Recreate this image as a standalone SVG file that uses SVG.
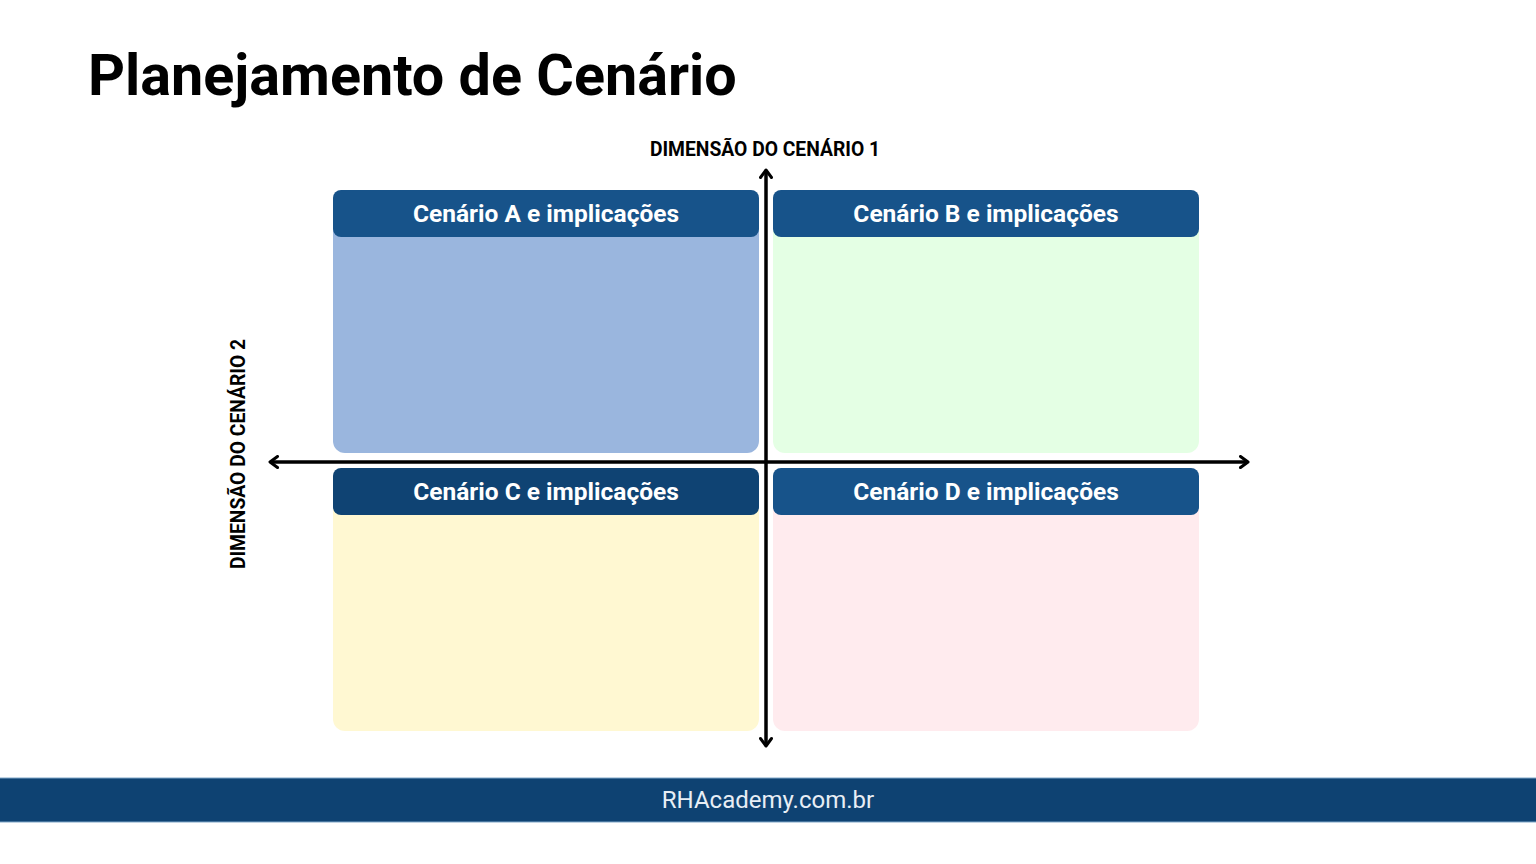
<svg xmlns="http://www.w3.org/2000/svg" width="1536" height="864" viewBox="0 0 1536 864">
<style>
.title{font-family:Roboto,"Liberation Sans",sans-serif;font-weight:700;font-size:57.5px;fill:#000}
.axis{font-family:Roboto,"Liberation Sans",sans-serif;font-weight:700;font-size:19.3px;fill:#000}
.hdr{font-family:Roboto,"Liberation Sans",sans-serif;font-weight:700;font-size:24.5px;fill:#fff;text-anchor:middle}
.foot{font-family:Roboto,"Liberation Sans",sans-serif;font-size:24px;fill:#e8eef5;text-anchor:middle}
.ax{stroke:#000;stroke-width:3.5;fill:none}
</style>
<defs>
<marker id="arr" viewBox="0 0 14 14" refX="10.5" refY="7" markerWidth="14" markerHeight="14" markerUnits="userSpaceOnUse" orient="auto-start-reverse">
<path d="M3,1.5 L10.5,7 L3,12.5" fill="none" stroke="#000" stroke-width="3" stroke-linecap="round" stroke-linejoin="round"/>
</marker>
</defs>
<rect width="1536" height="864" fill="#fff"/>
<text class="title" x="88" y="95">Planejamento de Cenário</text>

<g id="quadA">
<rect x="333" y="190" width="426" height="263" rx="12" fill="#9ab6de"/>
<rect x="333" y="190" width="426" height="47" rx="8" fill="#17538a"/>
<text class="hdr" x="546" y="222">Cenário A e implicações</text>
</g>
<g id="quadB">
<rect x="773" y="190" width="426" height="263" rx="12" fill="#e4ffe4"/>
<rect x="773" y="190" width="426" height="47" rx="8" fill="#17538a"/>
<text class="hdr" x="986" y="222">Cenário B e implicações</text>
</g>
<g id="quadC">
<rect x="333" y="468" width="426" height="263" rx="12" fill="#fff8d2"/>
<rect x="333" y="468" width="426" height="47" rx="8" fill="#0f4373"/>
<text class="hdr" x="546" y="500">Cenário C e implicações</text>
</g>
<g id="quadD">
<rect x="773" y="468" width="426" height="263" rx="12" fill="#ffebee"/>
<rect x="773" y="468" width="426" height="47" rx="8" fill="#17538a"/>
<text class="hdr" x="986" y="500">Cenário D e implicações</text>
</g>

<g id="connectors">
<line class="ax" x1="766" y1="170" x2="766" y2="746" marker-start="url(#arr)" marker-end="url(#arr)"/>
<line class="ax" x1="270" y1="462" x2="1248" y2="462" marker-start="url(#arr)" marker-end="url(#arr)"/>
</g>

<text class="axis" x="765" y="156" text-anchor="middle">DIMENSÃO DO CENÁRIO 1</text>
<text class="axis" transform="translate(245,454) rotate(-90)" text-anchor="middle">DIMENSÃO DO CENÁRIO 2</text>

<g id="footer">
<rect x="0" y="778" width="1536" height="44" fill="#0e4272"/>
<line x1="0" y1="778" x2="1536" y2="778" stroke="#7fa6c8" stroke-width="1"/>
<line x1="0" y1="822" x2="1536" y2="822" stroke="#7fa6c8" stroke-width="1"/>
<text class="foot" x="768" y="808">RHAcademy.com.br</text>
</g>
</svg>
